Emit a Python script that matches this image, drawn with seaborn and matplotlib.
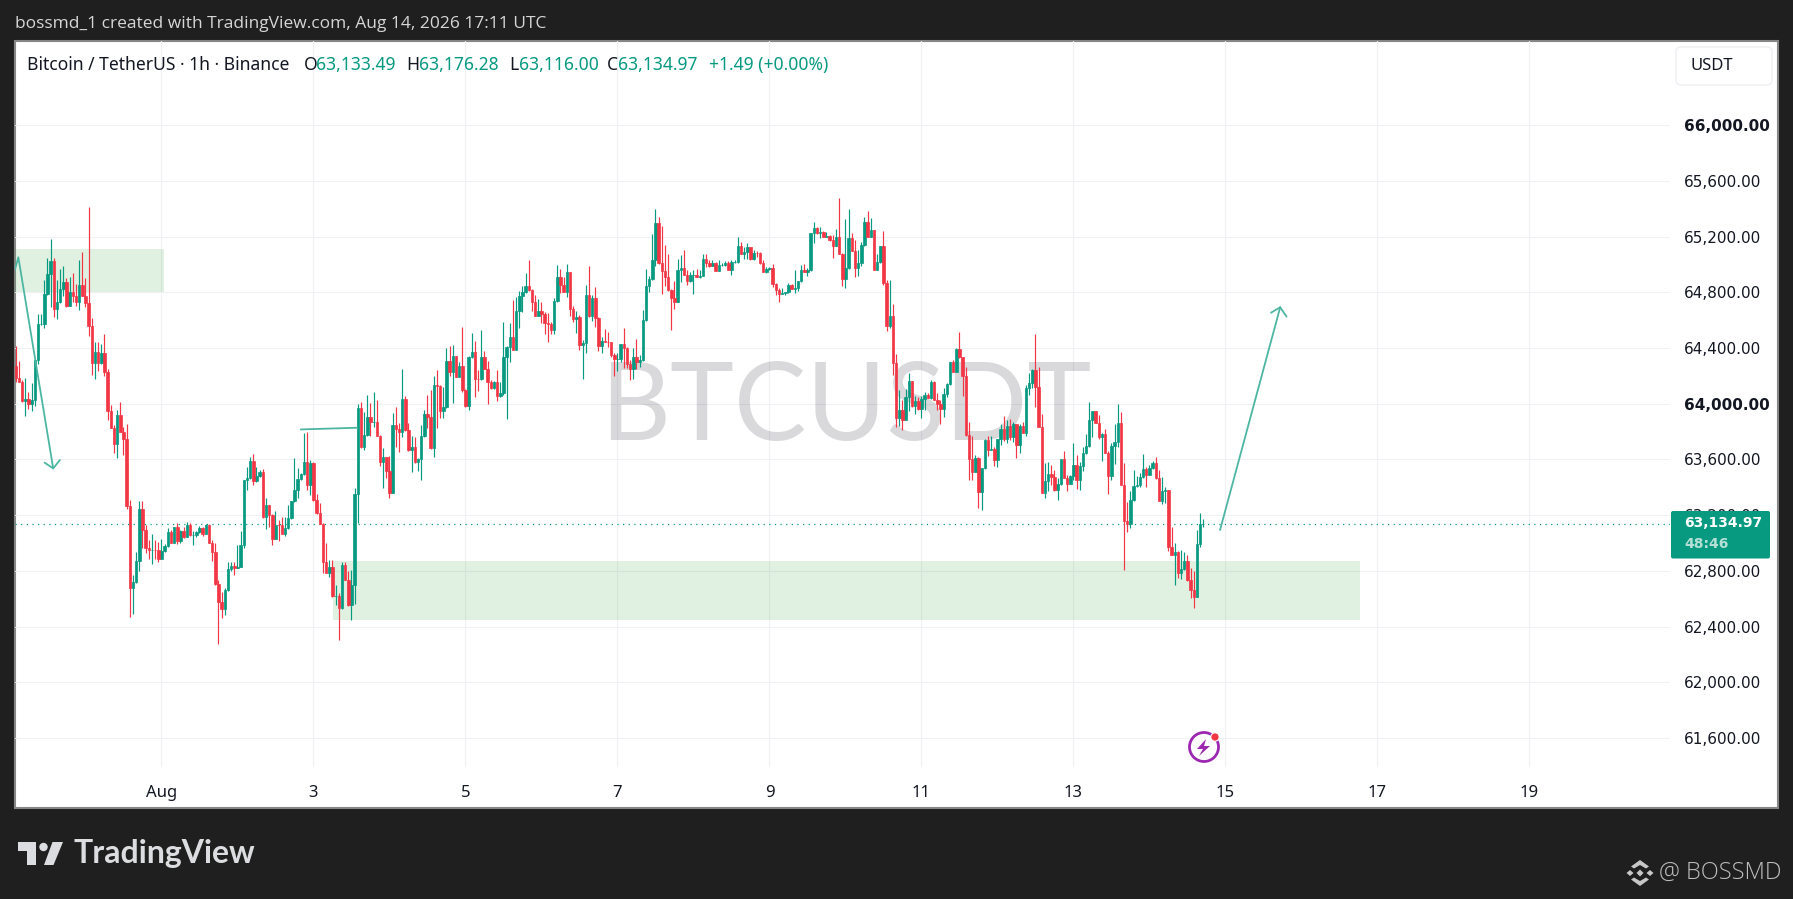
import numpy as np
import pandas as pd
import matplotlib
matplotlib.use('Agg')
import matplotlib.pyplot as plt
from matplotlib.patches import Rectangle, Polygon, Circle, FancyBboxPatch
import seaborn as sns

# BTCUSDT 1h candles, hour 0 = Aug 1 00:00
first_open = 64271
closes = [
    64183, 64159, 64020, 64034, 64001, 64027, 64314, 64570, 64573, 64786, 64930, 65025, 64680, 64728, 64824, 64874,
    64702, 64803, 64774, 64731, 64851, 64774, 64726, 64561, 64295, 64369, 64295, 64365, 64230, 63950, 63828, 63711,
    63919, 63800, 63747, 63266, 62679, 62720, 62871, 63244, 63096, 62966, 62950, 62950, 62947, 62885,
    62945, 62981, 63079, 63000, 63115, 63014, 63084, 63043, 63129, 63055, 63055, 63077, 63108, 63065, 63129, 63000,
    62933, 62705, 62576, 62526, 62662, 62813, 62832, 62823, 62830, 62983, 63452, 63467, 63589, 63445, 63481, 63510,
    63189, 63273, 63203, 63031, 63129, 63127, 63065, 63108, 63177, 63299, 63381, 63460, 63495, 63582, 63419, 63575,
    63309, 63213, 63134, 62866, 62787, 62825, 62619, 62619, 62533, 62842, 62734, 62555, 62698, 63352, 63969, 63692,
    63776, 63905, 63869, 63869, 63768, 63582, 63618, 63517, 63361, 63847, 63821, 63800, 64034, 63811, 63670, 63689,
    63582, 63601, 63766, 63926, 63907, 63682, 64135, 64128, 63950, 63977, 64307, 64230, 64343, 64195, 64271, 64099,
    63984, 64336, 64372, 64180, 64178, 64336, 64252, 64159, 64113, 64156, 64056,
    64075, 64333, 64405, 64477, 64386, 64666, 64771, 64800, 64846, 64817, 64733, 64633, 64666, 64642, 64578, 64575,
    64532, 64738, 64910, 64853, 64805, 64946, 64683, 64611, 64621, 64424, 64434, 64781, 64633, 64760, 64618, 64417,
    64448, 64446, 64444, 64353, 64321, 64324, 64429, 64398, 64286, 64252, 64336, 64302, 64314, 64602, 64846, 64896,
    65032, 65298, 65008, 64956, 64910, 64815, 64762, 64733, 64961, 64975, 64927, 64884, 64922, 64927, 64910, 64915,
    65040, 65013, 64989, 65011, 64956, 64994, 64997, 65011, 64961, 65016, 65018, 65133, 65076, 65088, 65126, 65040,
    65085, 65083, 65011, 64949, 64965, 64973, 64860, 64819, 64791, 64793, 64800, 64853, 64824, 64829, 64879, 64961,
    64949, 64961, 65224, 65262, 65224, 65234, 65200, 65205, 65176, 65135, 65198, 65076, 64896, 64973, 65190, 65099,
    64975, 65008, 65140, 65305, 65200, 65248, 64961, 65016, 65133, 64870, 64561, 64630, 64295, 63900, 63955, 63883,
    64046, 64163, 63984, 64020, 63962, 64037, 64060, 64041, 64156, 64027, 63998, 63962, 64070, 64142, 64300, 64230,
    64393, 64333, 64202, 63776, 63603, 63510, 63610, 63369, 63539, 63740, 63670, 63673, 63598, 63747,
    63819, 63747, 63843, 63759, 63852, 63704, 63840, 63793, 64111, 64147, 64243, 64118, 63836, 63362, 63443, 63496,
    63472, 63381, 63421, 63603, 63469, 63424, 63481, 63560, 63453, 63553, 63644, 63694, 63883, 63948, 63862, 63764,
    63783, 63649, 63484, 63697, 63723, 63862, 63419, 63161, 63134, 63309, 63410, 63417, 63472, 63532, 63488, 63536,
    63575, 63465, 63304, 63374, 63381, 62974, 62916, 62938, 62787, 62811, 62871, 62734, 62663, 62615, 62991, 63133.49,
    63134.97,
]
highs = [
    64417, 64307, 64171, 64183, 64087, 64151, 64314, 64642, 64642, 64889, 65044, 65181, 65044, 64889, 64968, 64989,
    64903, 64910, 64939, 64860, 65032, 65090, 64903, 65411, 64616, 64444, 64444, 64427, 64501, 64250, 63991, 63847,
    63955, 64013, 63835, 63855, 63309, 62770, 62935, 63302, 63302, 63129, 63021, 63065, 63021, 63009,
    63026, 62993, 63108, 63093, 63115, 63141, 63093, 63117, 63151, 63141, 63089, 63089, 63122, 63112, 63136, 63136,
    63021, 62998, 62734, 62650, 62677, 62863, 62863, 62866, 62983, 63089, 63452, 63543, 63615, 63639, 63548, 63524,
    63529, 63321, 63273, 63208, 63230, 63165, 63189, 63184, 63273, 63299, 63608, 63536, 63505, 63792, 63797, 63596,
    63584, 63352, 63285, 63141, 62998, 62878, 62878, 62698, 62638, 62861, 62861, 62801, 62806, 63393, 63998, 64015,
    63938, 64063, 64003, 64084, 64027, 63773, 63682, 63620, 63625, 63931, 63977, 63859, 64250, 64056, 63859, 63768,
    63764, 63608, 63845, 63955, 64063, 64099, 64199, 64242, 64135, 64123, 64400, 64415, 64422, 64343, 64302, 64551,
    64106, 64343, 64506, 64451, 64242, 64530, 64379, 64307, 64171, 64163, 64242,
    64156, 64585, 64415, 64578, 64745, 64764, 64812, 64846, 64939, 65032, 64824, 64781, 64752, 64731, 64661, 64652,
    64590, 64760, 64997, 64965, 64913, 65004, 64946, 64702, 64666, 64635, 64458, 64853, 64989, 64781, 64839, 64623,
    64482, 64537, 64518, 64444, 64365, 64365, 64429, 64544, 64410, 64314, 64403, 64465, 64350, 64673, 64968, 64918,
    65219, 65399, 65341, 65277, 65140, 65076, 64824, 64882, 65040, 65068, 65104, 64961, 64946, 64961, 64968, 64961,
    65076, 65076, 65032, 65032, 65016, 65032, 65013, 65028, 65025, 65032, 65032, 65198, 65159, 65128, 65152, 65128,
    65104, 65099, 65088, 65032, 64980, 64980, 65004, 64870, 64829, 64831, 64803, 64867, 64860, 64961, 64879, 64997,
    65004, 64975, 65224, 65305, 65269, 65269, 65241, 65234, 65212, 65212, 65255, 65478, 65080, 65327, 65399, 65226,
    65176, 65104, 65162, 65341, 65384, 65334, 65248, 65076, 65133, 65241, 64889, 64889, 64716, 64357, 64099, 64027,
    64104, 64221, 64163, 64056, 64051, 64056, 64084, 64075, 64171, 64163, 64075, 64027, 64113, 64149, 64300, 64314,
    64400, 64515, 64336, 64264, 63869, 63768, 63632, 63620, 63539, 63747, 63768, 63768, 63692, 63747,
    63852, 63912, 63884, 63888, 63867, 63852, 63852, 63872, 64135, 64219, 64250, 64501, 64262, 63927, 63577, 63582,
    63560, 63524, 63467, 63603, 63661, 63488, 63488, 63718, 63632, 63584, 63692, 63783, 64013, 63948, 63948, 63919,
    63788, 63819, 63661, 63716, 63855, 63998, 63941, 63575, 63295, 63374, 63524, 63481, 63505, 63639, 63548, 63560,
    63589, 63618, 63524, 63474, 63405, 63381, 63117, 63000, 62940, 62950, 62938, 62914, 62821, 62799, 63094, 63216,
    63176.28,
]
lows = [
    64159, 64154, 64015, 63912, 63960, 63950, 63984, 64286, 64566, 64546, 64781, 64697, 64625, 64609, 64721, 64774,
    64692, 64702, 64733, 64702, 64673, 64774, 64695, 64487, 64207, 64178, 64238, 64286, 64202, 63883, 63823, 63644,
    63613, 63795, 63632, 63244, 62471, 62490, 62715, 62799, 62966, 62926, 62883, 62849, 62883, 62863,
    62885, 62938, 62974, 62998, 62998, 62993, 63002, 63038, 63043, 63050, 62986, 63041, 63069, 63050, 63065, 63000,
    62873, 62701, 62275, 62464, 62483, 62658, 62801, 62770, 62818, 62830, 62962, 63381, 63462, 63416, 63440, 63472,
    63177, 63098, 63117, 62988, 63031, 63017, 63065, 63050, 63100, 63172, 63297, 63326, 63452, 63488, 63381, 63345,
    63304, 63208, 63134, 62787, 62782, 62758, 62614, 62555, 62303, 62528, 62734, 62548, 62447, 62562, 63141, 63685,
    63668, 63771, 63771, 63835, 63768, 63553, 63397, 63469, 63326, 63361, 63692, 63656, 63764, 63807, 63663, 63510,
    63577, 63517, 63452, 63759, 63823, 63677, 63620, 63823, 63900, 63900, 63969, 64202, 64008, 64190, 64195, 64084,
    63979, 63955, 64331, 64051, 64092, 64171, 64247, 63998, 64104, 64108, 64022,
    64051, 64063, 63888, 64302, 64386, 64386, 64546, 64661, 64793, 64810, 64666, 64630, 64633, 64578, 64501, 64444,
    64499, 64501, 64733, 64793, 64800, 64769, 64630, 64590, 64506, 64386, 64178, 64362, 64625, 64597, 64554, 64379,
    64362, 64444, 64410, 64338, 64202, 64238, 64302, 64254, 64259, 64171, 64178, 64252, 64266, 64309, 64597, 64805,
    64891, 64989, 65004, 64788, 64846, 64810, 64530, 64680, 64733, 64874, 64925, 64853, 64874, 64788, 64908, 64901,
    64915, 64980, 64985, 64989, 64953, 64953, 64989, 64989, 64958, 64925, 65008, 65013, 65073, 65040, 65040, 65032,
    65032, 65052, 65004, 64944, 64941, 64961, 64841, 64781, 64731, 64786, 64781, 64795, 64822, 64793, 64810, 64874,
    64946, 64918, 64953, 65152, 65219, 65188, 65195, 65195, 65171, 65047, 65133, 65076, 64846, 64831, 64968, 65095,
    64910, 64918, 64989, 65135, 65195, 65200, 64961, 64961, 65008, 64853, 64525, 64544, 64207, 63833, 63840, 63812,
    63883, 63948, 63979, 63926, 63955, 63898, 63955, 64039, 64037, 64025, 63955, 63855, 63905, 64051, 64137, 64228,
    64226, 64329, 64056, 63771, 63452, 63452, 63510, 63251, 63237, 63534, 63627, 63668, 63553, 63543,
    63706, 63735, 63716, 63740, 63728, 63613, 63649, 63788, 63771, 64063, 64111, 63979, 63836, 63362, 63321, 63376,
    63417, 63376, 63309, 63417, 63467, 63376, 63424, 63453, 63386, 63381, 63520, 63639, 63687, 63759, 63860, 63749,
    63589, 63644, 63352, 63453, 63568, 63692, 63414, 62806, 63082, 63110, 63304, 63400, 63400, 63467, 63405, 63488,
    63532, 63460, 63299, 63280, 63290, 62945, 62912, 62698, 62751, 62742, 62806, 62727, 62607, 62533, 62615, 62974,
    63116.00,
]
hours = np.arange(-46, 330)

last_price = 63134.97
price_ticks = [61600, 62000, 62400, 62800, 63200, 63600, 64000, 64400, 64800, 65200, 65600, 66000]
day_ticks = [0, 48, 96, 144, 192, 240, 288, 336, 384, 432]
day_labels = ['Aug', '3', '5', '7', '9', '11', '13', '15', '17', '19']

# drawings on the chart
zone_top = dict(start=-47, end=0.8, low=64803, high=65111)
zone_low = dict(start=54.2, end=378.5, low=62447, high=62871)
arrow_down_h = [-46.3, -45.2, -34.2]
arrow_down_p = [64961, 65052, 63536]
arrow_down_head_h = [-36.9, -34.2, -32.1]
arrow_down_head_p = [63577, 63536, 63596]
arrow_up_h = [334.3, 353.3]
arrow_up_p = [63094, 64693]
arrow_up_head_h = [350.4, 353.3, 355.3]
arrow_up_head_p = [64654, 64693, 64626]
level_h = [44, 61.8]
level_p = [63816, 63828]

GREEN = '#089981'
RED = '#f23645'
DRAW = '#4db6a2'

W, H = 1793, 899
sns.set_theme(style='white')
plt.rcParams['font.family'] = ['Noto Sans', 'DejaVu Sans']

fig = plt.figure(figsize=(W / 100, H / 100), dpi=100, facecolor='#1f1f1f')


def px_axes(left, top, right, bottom, **kw):
    return fig.add_axes([left / W, 1 - bottom / H, (right - left) / W, (bottom - top) / H], **kw)


# white panel behind everything
bg = px_axes(0, 0, W, H, zorder=0)
bg.set_xlim(0, W)
bg.set_ylim(H, 0)
bg.axis('off')
bg.add_patch(Rectangle((15, 41), 1763, 767, fc='white', ec='#868686', lw=1.5))

# main chart
ax = px_axes(15, 41, 1670, 767, zorder=1)
ax.patch.set_alpha(0)

opens = np.r_[first_open, closes[:-1]]
df = pd.DataFrame({'hour': hours, 'open': opens, 'high': highs, 'low': lows, 'close': closes})
df['body'] = (df['close'] - df['open']).abs()
df['bottom'] = df[['open', 'close']].min(axis=1)
up = df[df['close'] >= df['open']]
down = df[df['close'] < df['open']]

for part, col in [(up, GREEN), (down, RED)]:
    ax.vlines(part['hour'], part['low'], part['high'], color=col, lw=0.85, zorder=3)
    sns.barplot(data=part, x='hour', y='body', native_scale=True, color=col, saturation=1,
                width=0.78, errorbar=None, bottom=part['bottom'].values, ax=ax,
                edgecolor=col, linewidth=0.5, zorder=4)

for z in [zone_top, zone_low]:
    ax.add_patch(Rectangle((z['start'], z['low']), z['end'] - z['start'], z['high'] - z['low'],
                           fc='#4caf50', alpha=0.17, lw=0, zorder=1.5))

x0, x1 = -46.26, 476.4
sns.lineplot(x=[x0, x1], y=[last_price, last_price], color=GREEN, lw=0.9, ls=(0, (1, 3.5)),
             estimator=None, sort=False, ax=ax, zorder=2)

for xs, ys in [(arrow_down_h, arrow_down_p), (arrow_down_head_h, arrow_down_head_p),
               (arrow_up_h, arrow_up_p), (arrow_up_head_h, arrow_up_head_p), (level_h, level_p)]:
    sns.lineplot(x=xs, y=ys, color=DRAW, lw=1.3, estimator=None, sort=False, ax=ax, zorder=5)

ax.text(0.502, 0.4504, 'BTCUSDT', transform=ax.transAxes, ha='center', va='baseline',
        fontsize=78, color='#131722', alpha=0.16, zorder=0.8, family='Lato')

ax.set_xlim(x0, x1)
ax.set_ylim(61392, 66605)
ax.set_xlabel('')
ax.set_ylabel('')
ax.set_xticks(day_ticks)
ax.set_xticklabels(day_labels, fontsize=12, color='#131722')
ax.yaxis.tick_right()
ax.set_yticks(price_ticks)
ax.set_yticklabels([f'{p:,.2f}' for p in price_ticks], fontsize=11, color='#131722', family='DejaVu Sans')
ax.tick_params(axis='x', length=0, pad=13)
ax.tick_params(axis='y', length=0, pad=10)
ax.set_axisbelow(True)
ax.grid(True, color='#f0f1f4', lw=0.8)
sns.despine(ax=ax, left=True, bottom=True, top=True, right=True)
for lbl in ax.get_yticklabels():
    if lbl.get_text() in ('66,000.00', '64,000.00'):
        lbl.set_fontweight('bold')

# header, logo and the price badge, all in pixels
top = px_axes(0, 0, W, H, zorder=2)
top.set_xlim(0, W)
top.set_ylim(H, 0)
top.axis('off')

top.text(15, 24.5, 'bossmd_1 created with TradingView.com, Aug 14, 2026 17:11 UTC', color='#d6d6d6',
         fontsize=12.5, va='center', family='Open Sans')

top.text(27, 65, 'Bitcoin / TetherUS · 1h · Binance', color='#131722', fontsize=12.6, va='center')
ohlc_bits = [(304, 'O', '#131722'), (316, '63,133.49', GREEN), (406, 'H', '#131722'), (419, '63,176.28', GREEN),
             (509, 'L', '#131722'), (519, '63,116.00', GREEN), (607, 'C', '#131722'), (618, '63,134.97', GREEN),
             (709, '+1.49 (+0.00%)', GREEN)]
for xp, s, col in ohlc_bits:
    top.text(xp, 65, s, color=col, fontsize=12.6, va='center')

top.add_patch(FancyBboxPatch((1676, 47), 96, 38, boxstyle='round,pad=0,rounding_size=5',
                             fc='white', ec='#eceef2', lw=1))
top.text(1690, 65.5, 'USDT', color='#131722', fontsize=12, va='center')

top.add_patch(FancyBboxPatch((1671, 511), 99, 47.5, boxstyle='round,pad=0,rounding_size=2', fc=GREEN, ec='none'))
top.text(1684, 523, '63,134.97', color='white', fontsize=10, fontweight='bold', va='center', family='DejaVu Sans')
top.text(1684, 544.5, '48:46', color='#b5e0d6', fontsize=10, fontweight='bold', va='center', family='DejaVu Sans')

# lightning badge near the last candle
top.add_patch(Circle((1204, 747), 14.5, fc='white', ec='#9c27b0', lw=2))
top.add_patch(Polygon([(1206, 739), (1197, 749), (1203, 749), (1199, 756), (1210, 746), (1204, 746)],
                      fc='#9c27b0', ec='none'))
top.add_patch(Circle((1215, 737), 4.2, fc='#f23645', ec='white', lw=0.8))

# TradingView logo
LOGO = '#dcdde0'
top.add_patch(Polygon([(18, 842), (36, 842), (36, 865), (27, 865), (27, 851), (18, 851)], fc=LOGO, ec='none'))
top.add_patch(Circle((43.5, 847), 4.2, fc=LOGO, ec='none'))
top.add_patch(Polygon([(52.5, 842), (63, 842), (53.5, 865), (44, 865)], fc=LOGO, ec='none'))
top.text(73, 854, 'TradingView', color=LOGO, fontsize=23, fontweight='bold', va='center', family='Lato')

# Binance mark and handle
MARK = '#c8c8c8'
cx, cy = 1640, 873
top.add_patch(Polygon([(cx, cy - 3.5), (cx + 3.5, cy), (cx, cy + 3.5), (cx - 3.5, cy)], fc=MARK, ec='none'))
for sx in (-1, 1):
    top.add_patch(Polygon([(cx + sx * 10, cy - 3), (cx + sx * 13.5, cy), (cx + sx * 10, cy + 3), (cx + sx * 6.5, cy)],
                          fc=MARK, ec='none'))
    top.add_patch(Polygon([(cx, cy + sx * 13), (cx + 9, cy + sx * 6.5), (cx + 6, cy + sx * 4.5), (cx, cy + sx * 8),
                           (cx - 6, cy + sx * 4.5), (cx - 9, cy + sx * 6.5)], fc=MARK, ec='none'))
top.text(1659, 873, '@ BOSSMD', color='#bdbdbd', fontsize=17, va='center', family='Open Sans', fontweight='light')

fig.savefig('out.png', dpi=100, facecolor=fig.get_facecolor())
